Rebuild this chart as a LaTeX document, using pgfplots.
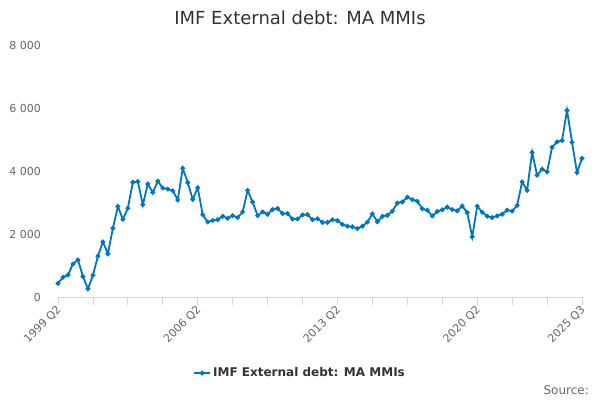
\documentclass[border=0pt]{standalone}
\usepackage{pgfplots}
\pgfplotsset{compat=1.18}
\usepackage{fontspec}
\setmainfont{DejaVu Sans}
\definecolor{linec}{RGB}{0,118,190}
\definecolor{axisc}{RGB}{204,214,235}
\definecolor{gridc}{RGB}{230,230,230}
\definecolor{titlec}{RGB}{51,51,51}
\definecolor{labc}{RGB}{102,102,102}
\begin{document}
\begin{tikzpicture}
\path[use as bounding box] (0,0) rectangle (600bp,400bp);
\begin{axis}[
  at={(58bp,103bp)}, anchor=south west,
  scale only axis, width=524bp, height=252bp,
  xmin=0, xmax=105, ymin=0, ymax=8000,
  axis y line=none, axis x line*=bottom,
  axis line style={color=axisc, line width=0.8bp, -},
  xtick={0,28,56,84,105},
  xticklabels={1999 Q2,2006 Q2,2013 Q2,2020 Q2,2025 Q3},
  minor xtick={7,14,21,35,42,49,63,70,77,91,98},
  xticklabel style={rotate=45, anchor=east, font=\fontsize{11bp}{13bp}\selectfont, text=labc, inner sep=1bp, yshift=-3bp},
  x tick style={color=axisc, line width=0.8bp},
  tick align=outside, major tick length=8bp, minor tick length=8bp,
  ytick={0,2000,4000,6000,8000},
  yticklabels={},
  y tick style={draw=none},
  ymajorgrids, grid style={color=gridc, line width=0.8bp},
  clip=false,
  legend style={draw=none, at={(0.462,-0.302)}, anchor=center, font=\bfseries\fontsize{12bp}{14bp}\selectfont, text=titlec, inner sep=1bp},
  legend image code/.code={\draw[#1, mark repeat=2, mark phase=2] plot coordinates {(0bp,0bp) (8bp,0bp) (16bp,0bp)};},
]
\pgfplotsextra{
  \foreach \v/\l in {0/0,2000/2 000,4000/4 000,6000/6 000,8000/8 000}{
    \node[anchor=east, text=labc, font=\fontsize{11bp}{13bp}\selectfont, inner sep=0pt] at (axis cs:0,\v) [xshift=-17bp] {\l};
  }
}
\addplot[color=linec, line width=1.8bp, mark=*, mark size=1.4bp, mark options={solid, fill=linec}] coordinates {
(0,432) (1,627) (2,703) (3,1049) (4,1178) (5,649) (6,259) (7,692) (8,1297) (9,1751)
(10,1373) (11,2184) (12,2876) (13,2465) (14,2822) (15,3643) (16,3665) (17,2930) (18,3589) (19,3319)
(20,3676) (21,3459) (22,3427) (23,3373) (24,3081) (25,4086) (26,3632) (27,3100) (28,3470) (29,2610)
(30,2380) (31,2432) (32,2454) (33,2562) (34,2497) (35,2584) (36,2519) (37,2703) (38,3384) (39,3016)
(40,2584) (41,2703) (42,2627) (43,2778) (44,2811) (45,2649) (46,2649) (47,2476) (48,2476) (49,2605)
(50,2616) (51,2454) (52,2486) (53,2368) (54,2368) (55,2454) (56,2425) (57,2303) (58,2249) (59,2227)
(60,2173) (61,2249) (62,2378) (63,2638) (64,2389) (65,2562) (66,2595) (67,2724) (68,2984) (69,3016)
(70,3168) (71,3092) (72,3038) (73,2800) (74,2757) (75,2573) (76,2714) (77,2768) (78,2854) (79,2778)
(80,2735) (81,2886) (82,2680) (83,1910) (84,2880) (85,2693) (86,2565) (87,2523) (88,2576) (89,2629)
(90,2757) (91,2725) (92,2907) (93,3653) (94,3387) (95,4592) (96,3867) (97,4059) (98,3973) (99,4752)
(100,4923) (101,4965) (102,5925) (103,4912) (104,3952) (105,4400)
};
\addlegendentry{IMF External debt: MA MMIs}
\end{axis}
\node[text=titlec, font=\fontsize{18bp}{21bp}\selectfont] at (300bp,382bp) {IMF External debt: MA MMIs};
\node[anchor=east, text=labc, font=\fontsize{12bp}{14bp}\selectfont, inner sep=0pt] at (589bp,10bp) {Source:};
\end{tikzpicture}
\end{document}
